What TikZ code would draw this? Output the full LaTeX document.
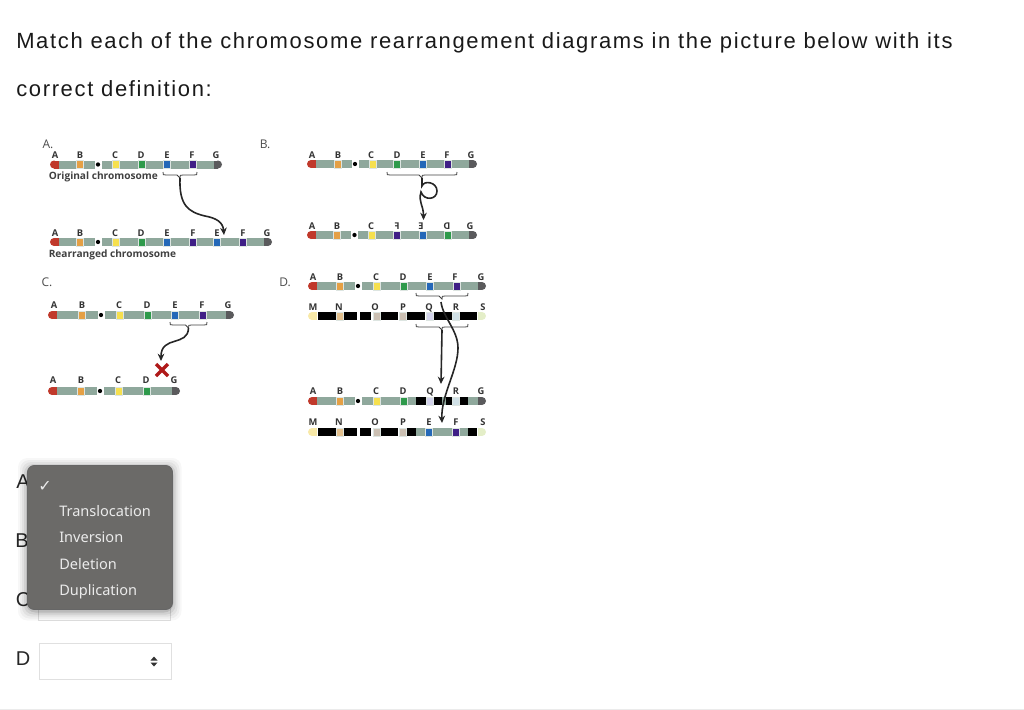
\documentclass[tikz,border=0pt]{standalone}
\usepackage{fontspec}
\setmainfont{Liberation Sans}
\newfontfamily\questionfont[LetterSpace=7.5]{Liberation Sans}
\newfontfamily\genefont{Open Sans}
\newfontfamily\menufont{Noto Sans}
\newfontfamily\symfont{DejaVu Sans}
\usetikzlibrary{arrows.meta,calc}

\definecolor{chrgray}{HTML}{8FA89C}
\definecolor{chrred}{HTML}{C0392B}
\definecolor{chrorange}{HTML}{E5A045}
\definecolor{chryellow}{HTML}{F6E04E}
\definecolor{chrgreen}{HTML}{2E9A4B}
\definecolor{chrblue}{HTML}{2468B8}
\definecolor{chrpurple}{HTML}{3F1F86}
\definecolor{chrdark}{HTML}{5A5A5C}
\definecolor{palemyel}{HTML}{F8E9A8}
\definecolor{paletan}{HTML}{E3C08E}
\definecolor{palegray}{HTML}{CBBFB2}
\definecolor{palelav}{HTML}{D2D2EA}
\definecolor{paleblue}{HTML}{D0E0E6}
\definecolor{palelime}{HTML}{E4EEC8}
\definecolor{menugray}{HTML}{6B6A68}

\tikzset{
  genelabel/.style={font=\genefont\bfseries\fontsize{7pt}{8pt}\selectfont, text=black!80, inner sep=0pt, text height=5pt, text depth=0pt},
  headlabel/.style={font=\genefont\fontsize{9pt}{10pt}\selectfont, text=black!70, inner sep=0pt},
  chrcaption/.style={font=\genefont\bfseries\fontsize{7.6pt}{9pt}\selectfont, text=black!75, inner sep=0pt, anchor=west},
  questiontext/.style={font=\questionfont\fontsize{16.5pt}{20pt}\selectfont, text=black!90, inner sep=0pt, anchor=base west},
  rowlabel/.style={font=\fontsize{15pt}{18pt}\selectfont, text=black!85, inner sep=0pt},
  menuitem/.style={font=\menufont\fontsize{10.9pt}{12pt}\selectfont, text=white!92!black, inner sep=0pt, anchor=base west},
  selectbox/.style={draw=black!12, fill=white, line width=.6pt},
  chrarrow/.style={line width=1.2pt, black!85, -{Stealth[length=5.5pt,width=5pt]}},
  brace/.style={line width=.6pt, black!75}
}

% chromosome body: left x, right x, y, body colour, end colours
\newcommand{\chrbar}[6]{
  \fill[#4] (#1+5,#3-4) rectangle (#2-5,#3+4);
  \fill[#5] (#1+4,#3) circle[radius=3pt];
  \fill[#5] (#1+4,#3-4) rectangle (#1+9,#3+4);
  \fill[#6] (#2-4,#3) circle[radius=3pt];
  \fill[#6] (#2-8,#3-4) rectangle (#2-4,#3+4);
}
% coloured bands: y, list of x/colour
\newcommand{\bands}[2]{
  \foreach \x/\c in {#2}
    \fill[\c, draw=white!70!chrgray, line width=.35pt] (\x-3.3,#1-4) rectangle (\x+3.3,#1+4);
}
% black stretches: y, list of x/x
\newcommand{\blackparts}[2]{
  \foreach \a/\b in {#2}
    \fill[black] (\a,#1-4) rectangle (\b,#1+4);
}
% centromere
\newcommand{\centro}[3]{
  \fill[white] (#1-3.5,#2-4.2) rectangle (#1+3.5,#2+4.2);
  \fill[#3] (#1,#2) circle[radius=1.6pt];
}
% gene letters: prefix, y, list of x/letter
\newcommand{\genes}[3]{
  \foreach \x/\t in {#3}
    \node[genelabel] (#1\t) at (\x,#2) {\t};
}
% brace: coordinate name, left x, right x, y
\newcommand{\brak}[4]{
  \coordinate (#1) at ({(#2+#3)/2},#4+6);
  \draw[brace] (#2,#4) .. controls (#2,#4+3) .. (#2+3,#4+3) -- ({(#2+#3)/2-3},#4+3)
    .. controls (#1) .. (#1) .. controls ({(#2+#3)/2},#4+3) .. ({(#2+#3)/2+3},#4+3)
    -- (#3-3,#4+3) .. controls (#3,#4+3) .. (#3,#4);
}

\begin{document}
\begin{tikzpicture}[x=.75pt,y=-.75pt]
    \useasboundingbox (0,0) rectangle (1024,710);

    % question
    \node[questiontext] (q1) at (16,48.5) {Match each of the chromosome rearrangement diagrams in the picture below with its};
    \node[questiontext] (q2) at (16,96) {correct definition:};

    % A
    \node[headlabel] (headA) at (48,144) {A.};
    \chrbar{50}{222}{164.5}{chrgray}{chrred}{chrdark}
    \bands{164.5}{80/chrorange,115.5/chryellow,141.5/chrgreen,167/chrblue,193/chrpurple}
    \centro{98}{164.5}{black}
    \genes{a}{155}{55/A,80/B,115/C,141/D,167/E,192/F,216/G}
    \node[chrcaption] (capA) at (48.5,176.5) {Original chromosome};
    \brak{braceA}{163}{197}{172}
    \chrbar{50}{272}{242}{chrgray}{chrred}{chrdark}
    \bands{242}{80/chrorange,115.5/chryellow,141.5/chrgreen,167/chrblue,193/chrpurple,217/chrblue,243/chrpurple}
    \centro{98}{242}{black}
    \foreach \x/\t/\n in {55/A/1,80/B/2,115/C/3,141/D/4,167/E/5,193/F/6,217/E/7,243/F/8,267/G/9}
      \node[genelabel] (ar\n) at (\x,233) {\t};
    \node[chrcaption] (capB) at (48.5,254.5) {Rearranged chromosome};
    \coordinate (endA) at (224,235);
    \draw[chrarrow] (braceA) .. controls (179,205) and (188,212) .. (205,216) .. controls (216,218) and (223,222) .. (endA);

    % B
    \node[headlabel] (headB) at (265,144) {B.};
    \chrbar{307}{477}{164}{chrgray}{chrred}{chrdark}
    \bands{164}{337.5/chrorange,372.5/chryellow,397/chrgreen,423/chrblue,448/chrpurple}
    \centro{355}{164}{black}
    \genes{b}{155}{312/A,338/B,371/C,397/D,423/E,447/F,471/G}
    \brak{braceB}{387}{457}{172}
    \chrbar{307}{477}{235}{chrgray}{chrred}{chrdark}
    \bands{235}{337/chrorange,372/chryellow,397/chrpurple,422.5/chrblue,448/chrgreen}
    \centro{354.5}{235}{black}
    \foreach \x/\t/\n in {312/A/1,337/B/2,371/C/3} \node[genelabel] (br\n) at (\x,226) {\t};
    \foreach \x/\t/\n in {397/F/4,421/E/5,447/D/6} \node[genelabel, xscale=-1] (br\n) at (\x,226) {\t};
    \node[genelabel] (br7) at (470,226) {G};
    \coordinate (endB) at (423.5,220);
    \draw[chrarrow] (braceB) -- (422,186) .. controls (424,180) and (437,182) .. (437,191) .. controls (437,200) and (424,201) .. (421,192) .. controls (418,202) and (423.5,205) .. (endB);

    % C
    \node[headlabel] (headC) at (47,282) {C.};
    \chrbar{48}{234}{315}{chrgray}{chrred}{chrdark}
    \bands{315}{81.5/chrorange,119.5/chryellow,147.5/chrgreen,175/chrblue,203/chrpurple}
    \centro{101}{315}{black}
    \genes{c}{305}{54/A,82/B,119/C,147/D,175/E,202/F,228/G}
    \brak{braceC}{170}{207}{322}
    \coordinate (endC) at (161,361);
    \draw[chrarrow] (braceC) .. controls (188,347) and (161,335) .. (endC);
    \draw[line width=2.4pt, red!65!black!90!white] (156,364) -- (168,376) (168,364) -- (156,376);
    \chrbar{48}{180}{391}{chrgray}{chrred}{chrdark}
    \bands{391}{81/chrorange,118.5/chryellow,147/chrgreen}
    \centro{100}{391}{black}
    \foreach \x/\t/\n in {53/A/1,81/B/2,118/C/3,146/D/4,174/G/5}
      \node[genelabel] (cr\n) at (\x,380) {\t};

    % D
    \node[headlabel] (headD) at (285,282) {D.};
    \chrbar{308}{486}{286}{chrgray}{chrred}{chrdark}
    \bands{286}{339.5/chrorange,376.5/chryellow,403.5/chrgreen,430/chrblue,456.5/chrpurple}
    \centro{358}{286}{black}
    \genes{d}{277}{313/A,340/B,376/C,403/D,430/E,455/F,481/G}
    \brak{braceD}{416}{468}{293}
    \chrbar{308}{486}{316}{white}{palemyel}{palelime}
    \blackparts{316}{317.5/335.5,343.5/356.5,359.5/371,380/398,407/425,433/452,460/477}
    \bands{316}{339.5/paletan,376.5/palegray,403/palegray,429.5/palelav,456/paleblue}
    \genes{m}{307}{313/M,339/N,375/O,403/P,429/Q,456/R,483/S}
    \brak{braceE}{416}{468}{324}
    \chrbar{308}{486}{401}{chrgray}{chrred}{chrdark}
    \blackparts{401}{416/426,433/442,446/452,460/468}
    \bands{401}{339.5/chrorange,376.5/chryellow,403.5/chrgreen,429.5/palelav,456/paleblue}
    \centro{358}{401}{black}
    \foreach \x/\t/\n in {313/A/1,340/B/2,376/C/3,403/D/4,430/Q/5,456/R/6,481/G/7}
      \node[genelabel] (dr\n) at (\x,391) {\t};
    \chrbar{308}{486}{432}{white}{palemyel}{palelime}
    \fill[chrgray] (416,428) rectangle (468,436);
    \blackparts{432}{317.5/335.5,343.5/356.5,359.5/371,380/398,407/416,468/477}
    \bands{432}{339.5/paletan,376.5/palegray,403/palegray,429/chrblue,456/chrpurple}
    \foreach \x/\t/\n in {313/M/1,339/N/2,375/O/3,403/P/4,429/E/5,456/F/6,483/S/7}
      \node[genelabel] (mr\n) at (\x,422) {\t};
    \coordinate (startD) at (441,302);
    \coordinate (endD) at (441,384);
    \coordinate (endE) at (442,423);
    \draw[chrarrow] (braceE) -- (endD);
    \draw[chrarrow] (startD) .. controls (443,318) and (458,330) .. (458,348) .. controls (458,370) and (441,395) .. (endE);

    % rows and selects
    \node[rowlabel] (rowA) at (23,482) {A};
    \node[rowlabel] (rowB) at (22,541) {B};
    \node[rowlabel] (rowC) at (23,600) {C};
    \node[rowlabel] (rowD) at (23,659) {D};
    \draw[selectbox] (38.5,585) rectangle (170,620.5);
    \draw[selectbox] (39.5,643) rectangle (171,679);
    \coordinate (spin) at (154,661.5);
    \fill[black!80] ($(spin)+(-3.5,-1)$) -- ($(spin)+(3.5,-1)$) -- ($(spin)+(0,-5)$) -- cycle;
    \fill[black!80] ($(spin)+(-3.5,1)$) -- ($(spin)+(3.5,1)$) -- ($(spin)+(0,5)$) -- cycle;

    % popup menu
    \foreach \s/\o in {9/.03,7/.04,5/.05,3/.07,1/.1}
      \fill[black, opacity=\o, rounded corners=7pt] (27-\s,465-\s+2) rectangle (172.5+\s,609.5+\s+2);
    \draw[fill=menugray, draw=black!60, line width=.6pt, rounded corners=5pt] (27.5,465.5) rectangle (172.5,609.5);
    \node[menuitem, font=\symfont\fontsize{12pt}{14pt}\selectfont] (check) at (38,491) {✓};
    \node[menuitem] (m1) at (59,516.5) {Translocation};
    \node[menuitem] (m2) at (59,542.5) {Inversion};
    \node[menuitem] (m3) at (59,569) {Deletion};
    \node[menuitem] (m4) at (59,595) {Duplication};

    % bottom rule
    \draw[black!8, line width=.75pt] (0,709.5) -- (1024,709.5);
\end{tikzpicture}
\end{document}
